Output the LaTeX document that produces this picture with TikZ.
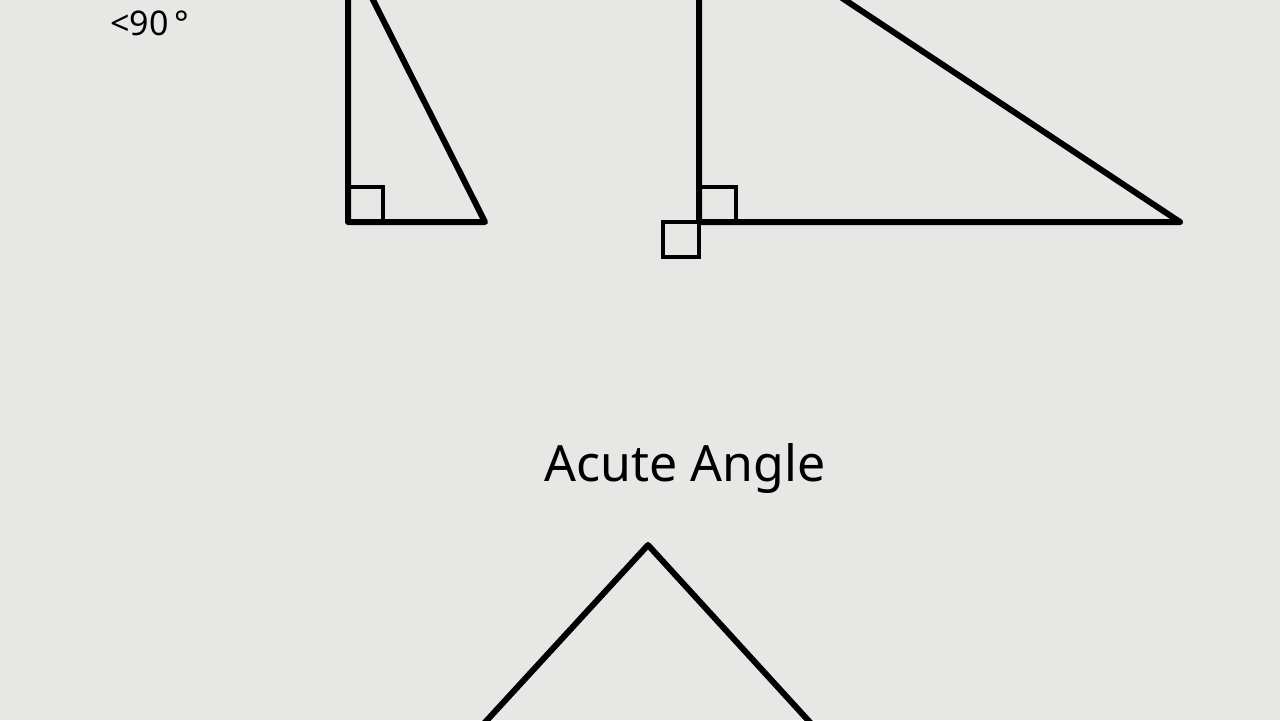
\documentclass[tikz,border=0pt]{standalone}
\usepackage{fontspec}
\setmainfont{Noto Sans}
\usepackage{tikz}
\definecolor{paper}{HTML}{E7E7E5}

\begin{document}
\begin{tikzpicture}[x=0.5pt, y=-0.5pt,
		side/.style={line width=3pt, line join=round, line cap=round},
		rightmark/.style={line width=2.4pt}]
		\clip (0, 0) rectangle (1280, 720);
		\fill[paper] (0, 0) rectangle (1280, 720);

		\node[anchor=base west, inner sep=0pt, font=\fontsize{17}{20}\selectfont] at (110, 35) (lt) {<90\,°};

		% narrow right triangle
		\draw[side] (348, -10) -- (348, 222) -- (485, 222) -- (368, -10);
		\draw[rightmark] (348, 187) -- (383, 187) -- (383, 222);

		% wide right triangle
		\draw[side] (699, -10) -- (699, 222) -- (1180, 222) -- (830, -10);
		\draw[rightmark] (699, 187) -- (736, 187) -- (736, 222);
		\draw[rightmark] (699, 222) -- (699, 257) -- (663, 257) -- (663, 222) -- (699, 222);

		\node[anchor=base, inner sep=0pt, font=\fontsize{25}{30}\selectfont] at (685, 481) (title) {Acute Angle};

		% acute angle
		\draw[side] (478, 730) -- (648, 545) -- (817, 730);
	\end{tikzpicture}
\end{document}
